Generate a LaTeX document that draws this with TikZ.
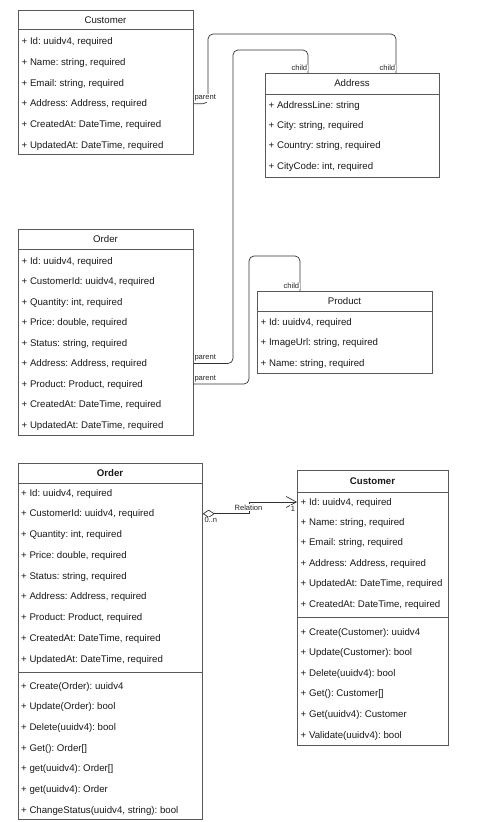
\documentclass[tikz,border=0pt]{standalone}
\usepackage{fontspec}
\setmainfont{Liberation Sans}
\usetikzlibrary{arrows.meta}
\frenchspacing
\tikzset{
  classbox/.style={draw=black!65,line width=0.7bp,anchor=north west,inner sep=0pt,fill=white},
  divider/.style={draw=black!65,line width=0.7bp},
  classname/.style={inner sep=0pt,font=\fontsize{9.7}{11}\selectfont,text=black!90},
  attr/.style={anchor=west,inner sep=0pt,text height=7.4bp,text depth=1.4bp,
    font=\fontsize{9.7}{11}\selectfont,text=black!90},
  tag/.style={inner sep=0.6bp,fill=white,font=\fontsize{7.6}{8}\selectfont,text=black!85},
  link/.style={draw=black!80,line width=0.7bp,rounded corners=5bp},
}
\begin{document}
\begin{tikzpicture}[x=1bp,y=-1bp]
\useasboundingbox (0,0) rectangle (492,822);
%% Customer
\node[classbox,minimum width=175bp,minimum height=144bp] (cust) at (18,10) {};
\draw[divider] ([yshift=-19.5bp]cust.north west) -- ([yshift=-19.5bp]cust.north east);
\node[classname] (custT) at (105.5,20) {Customer};
\foreach \t [count=\i] in {{+ Id: uuidv4, required},{+ Name: string, required},
  {+ Email: string, required},{+ Address: Address, required},
  {+ CreatedAt: DateTime, required},{+ UpdatedAt: DateTime, required}}
  \node[attr] (custA\i) at (21.5,{42+20.6*(\i-1)}) {\t};
%% Address
\node[classbox,minimum width=174bp,minimum height=104bp] (addr) at (265,73) {};
\draw[divider] ([yshift=-21bp]addr.north west) -- ([yshift=-21bp]addr.north east);
\node[classname] (addrT) at (352,83.5) {Address};
\foreach \t [count=\i] in {{+ AddressLine: string},{+ City: string, required},
  {+ Country: string, required},{+ CityCode: int, required}}
  \node[attr] (addrA\i) at (268.5,{105+20.4*(\i-1)}) {\t};
%% Order
\node[classbox,minimum width=175bp,minimum height=206bp] (ord) at (18,229) {};
\draw[divider] ([yshift=-20bp]ord.north west) -- ([yshift=-20bp]ord.north east);
\node[classname] (ordT) at (105.5,239) {Order};
\foreach \t [count=\i] in {{+ Id: uuidv4, required},{+ CustomerId: uuidv4, required},
  {+ Quantity: int, required},{+ Price: double, required},{+ Status: string, required},
  {+ Address: Address, required},{+ Product: Product, required},
  {+ CreatedAt: DateTime, required},{+ UpdatedAt: DateTime, required}}
  \node[attr] (ordA\i) at (21.5,{261+20.5*(\i-1)}) {\t};
%% Product
\node[classbox,minimum width=175bp,minimum height=82bp] (prod) at (257,291) {};
\draw[divider] ([yshift=-20bp]prod.north west) -- ([yshift=-20bp]prod.north east);
\node[classname] (prodT) at (344.5,301) {Product};
\foreach \t [count=\i] in {{+ Id: uuidv4, required},{+ ImageUrl: string, required},
  {+ Name: string, required}}
  \node[attr] (prodA\i) at (260.5,{322+20.5*(\i-1)}) {\t};
%% parent/child links
\draw[link] (custA4 -| cust.east) -| (208,34) -| ([xshift=131bp]addr.north west);
\draw[link] (ordA6 -| ord.east) -| (233,50) -| ([xshift=43bp]addr.north west);
\draw[link] (ordA7 -| ord.east) -| (249,256) -| ([xshift=43bp]prod.north west);
\node[tag,anchor=south west] (custP) at ([yshift=1.5bp]custA4 -| cust.east) {parent};
\node[tag,anchor=south west] (ordP1) at ([yshift=1.5bp]ordA6 -| ord.east) {parent};
\node[tag,anchor=south west] (ordP2) at ([yshift=1.5bp]ordA7 -| ord.east) {parent};
\node[tag,anchor=south east] (addrC1) at ([xshift=131bp,yshift=1.5bp]addr.north west) {child};
\node[tag,anchor=south east] (addrC2) at ([xshift=43bp,yshift=1.5bp]addr.north west) {child};
\node[tag,anchor=south east] (prodC) at ([xshift=43bp,yshift=1.5bp]prod.north west) {child};
%% Order (class)
\node[classbox,minimum width=184bp,minimum height=356bp] (bord) at (18,463) {};
\draw[divider] ([yshift=-20bp]bord.north west) -- ([yshift=-20bp]bord.north east);
\draw[divider] ([yshift=-209bp]bord.north west) -- ([yshift=-209bp]bord.north east);
\node[classname,font=\fontsize{9.7}{11}\selectfont\bfseries] (bordT) at (110,473) {Order};
\foreach \t [count=\i] in {{+ Id: uuidv4, required},{+ CustomerId: uuidv4, required},
  {+ Quantity: int, required},{+ Price: double, required},{+ Status: string, required},
  {+ Address: Address, required},{+ Product: Product, required},
  {+ CreatedAt: DateTime, required},{+ UpdatedAt: DateTime, required}}
  \node[attr] (bordA\i) at (21,{493+20.75*(\i-1)}) {\t};
\foreach \t [count=\i] in {{+ Create(Order): uuidv4},{+ Update(Order): bool},
  {+ Delete(uuidv4): bool},{+ Get(): Order[]},{+ get(uuidv4): Order[]},
  {+ get(uuidv4): Order},{+ ChangeStatus(uuidv4, string): bool}}
  \node[attr] (bordM\i) at (21,{686+20.7*(\i-1)}) {\t};
%% Customer (class)
\node[classbox,minimum width=151bp,minimum height=275bp] (bcust) at (297,470) {};
\draw[divider] ([yshift=-22bp]bcust.north west) -- ([yshift=-22bp]bcust.north east);
\draw[divider] ([yshift=-147bp]bcust.north west) -- ([yshift=-147bp]bcust.north east);
\node[classname,font=\fontsize{9.7}{11}\selectfont\bfseries] (bcustT) at (372.5,481) {Customer};
\foreach \t [count=\i] in {{+ Id: uuidv4, required},{+ Name: string, required},
  {+ Email: string, required},{+ Address: Address, required},
  {+ UpdatedAt: DateTime, required},{+ CreatedAt: DateTime, required}}
  \node[attr] (bcustA\i) at (300.5,{502+20.4*(\i-1)}) {\t};
\foreach \t [count=\i] in {{+ Create(Customer): uuidv4},{+ Update(Customer): bool},
  {+ Delete(uuidv4): bool},{+ Get(): Customer[]},{+ Get(uuidv4): Customer},
  {+ Validate(uuidv4): bool}}
  \node[attr] (bcustM\i) at (300.5,{632+20.6*(\i-1)}) {\t};
%% Relation
\draw[link,rounded corners=0pt,{Diamond[open,length=12bp,width=8bp]}-{Straight Barb[length=10bp,width=11bp]}]
  (bordA2 -| bord.east) -| (249,508) |- (bcustA1 -| bcust.west);
\node[tag] (rel) at (248.5,507.5) {Relation};
\node[tag,anchor=north west] (multN) at ([xshift=1bp,yshift=-3bp]bordA2 -| bord.east) {0..n};
\node[tag,anchor=north east] (multOne) at ([xshift=-1bp,yshift=-3bp]bcustA1 -| bcust.west) {1};
\end{tikzpicture}
\end{document}
